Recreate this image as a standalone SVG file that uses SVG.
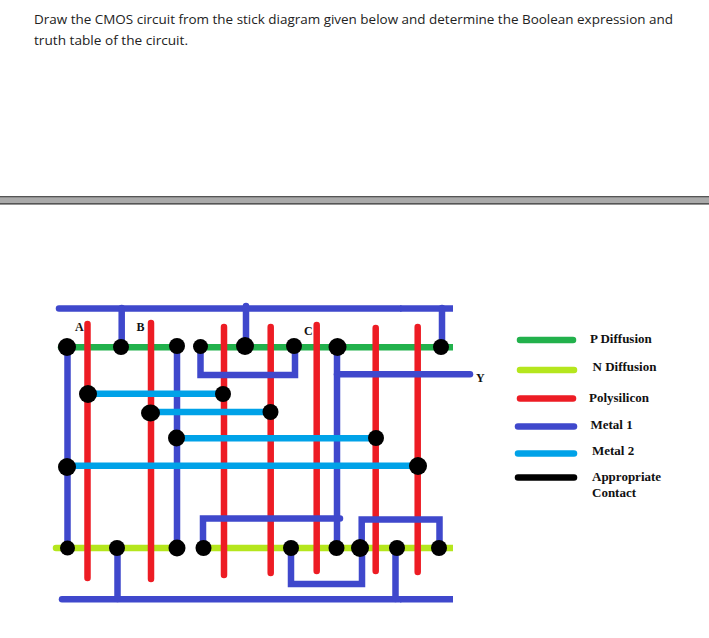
<svg xmlns="http://www.w3.org/2000/svg" width="709" height="638" viewBox="0 0 709 638">
<style>
.w{fill:none;stroke-linecap:round;stroke-linejoin:miter}
.b{stroke-linecap:butt}
.pd{stroke:#22b14c;stroke-width:6.5}
.nd{stroke:#b5e61d;stroke-width:6.5}
.po{stroke:#ed1c24;stroke-width:6.5}
.m1{stroke:#3f48cc;stroke-width:6.5}
.m2{stroke:#00a2e8;stroke-width:6.5}
.k{stroke:#000;stroke-width:6.5}
.c{fill:#000}
.h{font-family:"Open Sans","Noto Sans",sans-serif;font-size:13.5px;fill:#222}
.s{font-family:"Liberation Serif",serif;font-weight:bold;font-size:12px;fill:#111}
.l{font-size:13px}
</style>
<rect width="709" height="638" fill="#fff"/>
<g id="header">
<text class="h" x="34" y="24" textLength="639" lengthAdjust="spacingAndGlyphs">Draw the CMOS circuit from the stick diagram given below and determine the Boolean expression and</text>
<text class="h" x="34" y="45" textLength="154" lengthAdjust="spacingAndGlyphs">truth table of the circuit.</text>
</g>
<g id="divider">
<rect x="0" y="196" width="709" height="8.5" fill="#aaa"/>
<rect x="0" y="196" width="709" height="1.3" fill="#555"/>
<rect x="0" y="203" width="709" height="1.5" fill="#555"/>
</g>
<g id="diffusion" class="w">
<path class="pd" d="M61 347.3H177"/>
<path class="pd b" d="M200 347.3H453"/>
<path class="nd" d="M56 548H180"/>
<path class="nd b" d="M197 548H453"/>
</g>
<g id="polysilicon" class="w po">
<path d="M87.5 324V578M151 323V579M224 327V575M270.7 327V573M316.7 325V571M375.7 328V571M417.7 327V572"/>
</g>
<g id="connectors">
<g id="metal1" class="w m1">
<path d="M59 308.5H400"/>
<path class="b" d="M400 308.5H453"/>
<path d="M121.7 308V347M246 306V347M442 308V347"/>
<path d="M67.5 347V547M177 346V547M337 347V547"/>
<path d="M200.5 347V375H295V346"/>
<path d="M337 374.3H470"/>
<path d="M203 547V518.5H340"/>
<path d="M361.7 547V519.5H439.5V547"/>
<path d="M291 547V584H362V547"/>
<path d="M62 599.3H400"/>
<path class="b" d="M400 599.3H453"/>
<path d="M117.5 547V599M395.5 547V599"/>
</g>
<g id="metal2" class="w m2">
<path d="M88 393.7H223M151 412H270M176 438.3H376M67 465.7H418"/>
</g>
</g>
<g id="contacts" class="c">
<circle cx="67" cy="347" r="9"/><circle cx="121" cy="347" r="8"/><circle cx="177" cy="346" r="8"/><circle cx="200.5" cy="346.5" r="7.5"/><circle cx="245" cy="346" r="9"/><circle cx="294" cy="346" r="8"/><circle cx="337.5" cy="347" r="9"/><circle cx="441" cy="347" r="8"/>
<circle cx="88" cy="394" r="9"/><circle cx="223" cy="394" r="8"/><ellipse cx="150.5" cy="413" rx="9.5" ry="8.5"/><circle cx="270.5" cy="412" r="8"/><circle cx="176.5" cy="438" r="8.5"/><circle cx="376" cy="438" r="8"/><circle cx="67" cy="467" r="9"/><circle cx="418" cy="466" r="9"/>
<circle cx="67.5" cy="548" r="7.5"/><circle cx="117" cy="548" r="8"/><circle cx="177" cy="548" r="8.5"/><circle cx="203.5" cy="548" r="8"/><circle cx="291" cy="548" r="8"/><circle cx="336.5" cy="548" r="8"/><circle cx="360" cy="548" r="9"/><circle cx="397" cy="548" r="8"/><circle cx="439" cy="548" r="8"/>
</g>
<g id="signal-labels">
<text class="s" x="75" y="331">A</text>
<text class="s" x="136.5" y="331">B</text>
<text class="s" x="304" y="335">C</text>
<text class="s" x="476" y="382">Y</text>
</g>
<g id="legend">
<path class="w pd" d="M520 340H573"/>
<path class="w nd" d="M520 370H574"/>
<path class="w po" d="M520 398.5H573"/>
<path class="w m1" d="M518 426.5H574"/>
<path class="w m2" d="M518 453.5H574"/>
<path class="w k" d="M518 477.5H574"/>
<text class="s l" x="590" y="342.5">P Diffusion</text>
<text class="s l" x="592.5" y="371">N Diffusion</text>
<text class="s l" x="589" y="401.5">Polysilicon</text>
<text class="s l" x="590.5" y="428.5">Metal 1</text>
<text class="s l" x="592" y="455">Metal 2</text>
<text class="s l" x="592" y="481">Appropriate</text>
<text class="s l" x="592" y="497">Contact</text>
</g>
</svg>
